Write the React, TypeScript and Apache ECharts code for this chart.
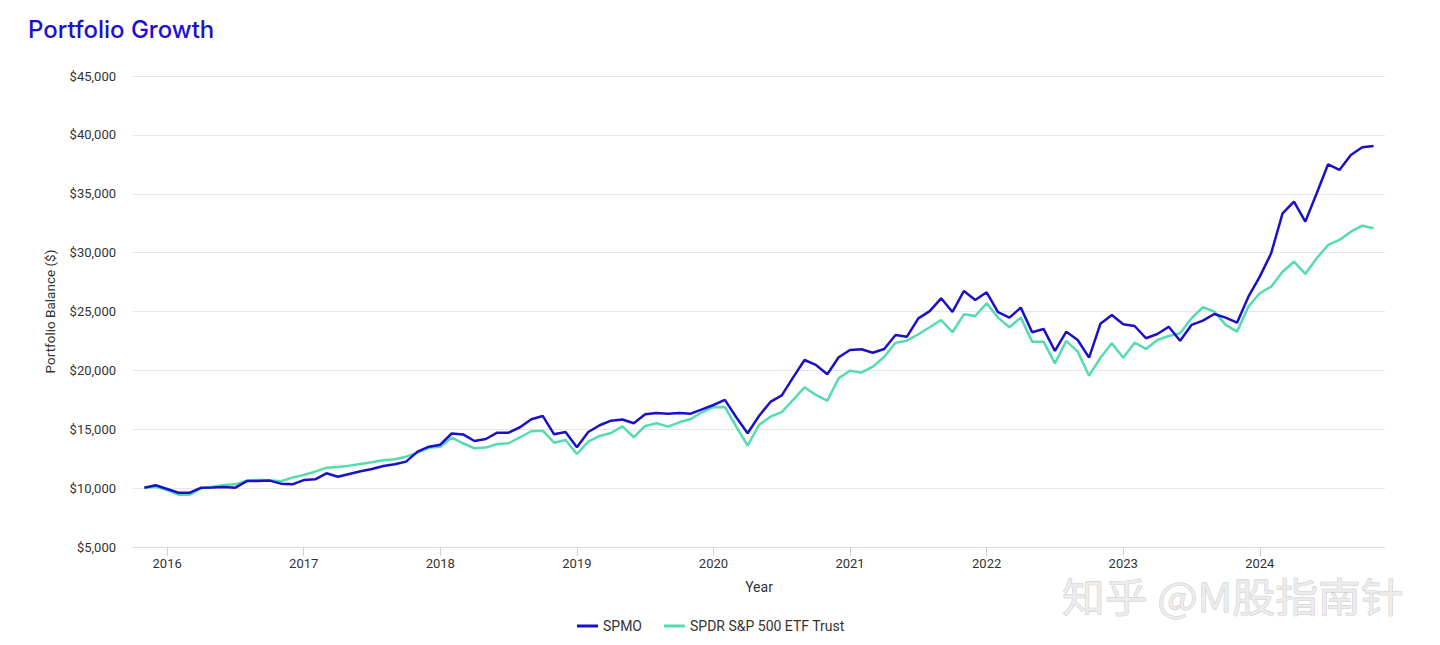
import React, { useEffect, useRef } from "react";
import * as echarts from "echarts";

const startYear = 2015;
const startMonth = 11; // Nov 2015, monthly points

const spmo = [
  10040, 10240, 9930, 9610, 9610, 10040, 10060, 10090, 10040, 10600, 10600, 10640,
  10380, 10320, 10680, 10750, 11260, 10970, 11200, 11430, 11630, 11880, 12020, 12250,
  13100, 13520, 13690, 14640, 14560, 14000, 14170, 14710, 14710, 15170, 15850, 16130,
  14570, 14770, 13470, 14770, 15340, 15730, 15830, 15510, 16270, 16380, 16320, 16380,
  16320, 16690, 17060, 17490, 16020, 14660, 16130, 17320, 17880, 19410, 20880, 20460,
  19670, 21110, 21730, 21790, 21500, 21820, 23010, 22860, 24420, 25030, 26120, 24960,
  26740, 25980, 26630, 24940, 24480, 25330, 23240, 23520, 21650, 23290, 22580, 21080,
  23960, 24700, 23920, 23770, 22730, 23090, 23710, 22520, 23860, 24220, 24790, 24480,
  24050, 26260, 27960, 29950, 33340, 34330, 32630, 35040, 37500, 37020, 38290, 38950,
  39060,
];

const spy = [
  10040, 10120, 9840, 9440, 9440, 9990, 10120, 10270, 10320, 10640, 10690, 10660,
  10580, 10890, 11120, 11400, 11740, 11800, 11910, 12050, 12190, 12360, 12450, 12670,
  13010, 13430, 13520, 14280, 13810, 13380, 13440, 13750, 13810, 14320, 14830, 14880,
  13860, 14090, 12900, 13950, 14430, 14680, 15240, 14320, 15280, 15510, 15220, 15590,
  15870, 16440, 16870, 16900, 15220, 13610, 15360, 16070, 16450, 17490, 18560, 17910,
  17430, 19330, 19980, 19800, 20310, 21160, 22350, 22520, 23070, 23660, 24280, 23240,
  24760, 24620, 25700, 24480, 23660, 24480, 22440, 22440, 20600, 22500, 21590, 19550,
  21070, 22300, 21080, 22350, 21820, 22580, 22920, 23150, 24420, 25360, 24990, 23860,
  23290, 25410, 26550, 27110, 28380, 29230, 28190, 29520, 30650, 31080, 31780, 32290,
  32070,
];

const yearTicks = [2016, 2017, 2018, 2019, 2020, 2021, 2022, 2023, 2024];
const seriesNames = ["SPMO", "SPDR S&P 500 ETF Trust"];

// decimal year for monthly index (month start)
const toYear = (i: number) => startYear + (startMonth - 1 + i) / 12;

export default function App() {
  const ref = useRef<HTMLDivElement>(null);
  useEffect(() => {
    if (!ref.current) return;
    const chart = echarts.init(ref.current, undefined, { renderer: "svg" });
    const n = spmo.length;
    const xMin = toYear(-1);
    const xMax = toYear(n);
    const font = "Roboto, 'Noto Sans', sans-serif";
    chart.setOption({
      animation: false,
      title: {
        text: "Portfolio Growth",
        left: 28,
        top: 17,
        padding: 0,
        textStyle: {
          color: "#1b10d2",
          fontSize: 24,
          fontWeight: 500,
          fontFamily: "Inter, 'Open Sans', sans-serif",
        },
      },
      legend: {
        top: 614,
        left: 572,
        icon: "rect",
        itemWidth: 21,
        itemHeight: 3,
        itemGap: 22,
        textStyle: { fontSize: 14, color: "#333", fontFamily: font },
        data: seriesNames,
      },
      grid: { left: 133, right: 55, top: 76, bottom: 98 },
      xAxis: {
        type: "value",
        min: xMin,
        max: xMax,
        name: "Year",
        nameLocation: "middle",
        nameGap: 33,
        nameTextStyle: { fontSize: 14, color: "#333", fontFamily: font },
        axisLine: { lineStyle: { color: "#d6dbe4", width: 1 } },
        axisTick: {
          show: true,
          length: 9,
          customValues: yearTicks,
          lineStyle: { color: "#ccd3de" },
        },
        axisLabel: {
          customValues: yearTicks,
          fontSize: 13,
          color: "#333",
          fontFamily: font,
          margin: 10,
          formatter: (v: number) => String(Math.round(v)),
        },
        splitLine: { show: false },
      },
      yAxis: {
        type: "value",
        min: 5000,
        max: 45000,
        interval: 5000,
        name: "Portfolio Balance ($)",
        nameLocation: "middle",
        nameGap: 76,
        nameTextStyle: { fontSize: 13.5, color: "#333", fontFamily: font },
        axisLine: { show: false },
        axisTick: { show: false },
        axisLabel: {
          fontSize: 13,
          color: "#333",
          fontFamily: font,
          margin: 17,
          formatter: (v: number) => "$" + v.toLocaleString("en-US"),
        },
        splitLine: { lineStyle: { color: "#e6e6e6", width: 1 } },
      },
      series: [
        {
          name: seriesNames[0],
          type: "line",
          symbol: "none",
          data: spmo.map((v, i) => [toYear(i), v]),
          lineStyle: { color: "#1b10c8", width: 2.5 },
          itemStyle: { color: "#1b10c8" },
          z: 3,
        },
        {
          name: seriesNames[1],
          type: "line",
          symbol: "none",
          data: spy.map((v, i) => [toYear(i), v]),
          lineStyle: { color: "#55dbb3", width: 2.5 },
          itemStyle: { color: "#55dbb3" },
          z: 2,
        },
      ],
      graphic: [
        {
          type: "text",
          x: 1062,
          y: 575,
          scaleX: 1.07,
          silent: true,
          style: {
            text: "知乎 @M股指南针",
            font: "400 40px 'Noto Sans CJK SC', sans-serif",
            fill: "rgba(235,235,235,0.9)",
            stroke: "rgba(170,170,170,0.7)",
            lineWidth: 0.8,
          },
        },
      ],
    });
    return () => chart.dispose();
  }, []);
  return (
    <div
      ref={ref}
      style={{ position: "fixed", left: 0, top: 0, width: 1440, height: 645, background: "#fff" }}
    />
  );
}
